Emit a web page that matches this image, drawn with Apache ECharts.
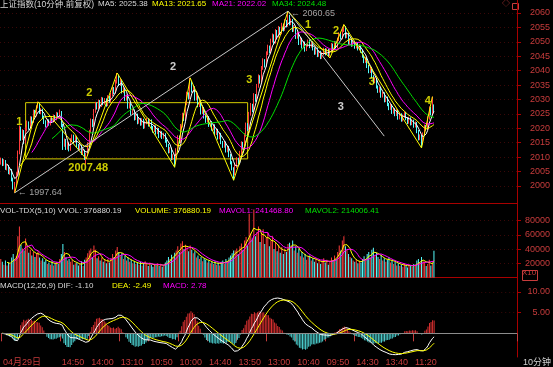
<!DOCTYPE html>
<html><head><meta charset="utf-8">
<script src="https://cdn.jsdelivr.net/npm/echarts@6/dist/echarts.min.js"></script>
<style>html,body{margin:0;padding:0;background:#000;}#c{width:553px;height:367px;}</style>
</head><body><div id="c"></div><script>
// candles: [open, close, low, high]
const ohlc = [
[2008.0,2009.0,2007.4,2009.8],[2009.0,2007.5,2006.9,2009.6],[2007.5,2008.6,2007.0,2009.3],[2008.6,2006.2,2005.6,2009.0],[2006.2,2006.9,2005.4,2007.8],
[2006.9,2004.8,2004.1,2007.3],[2004.8,2005.5,2003.9,2006.4],[2005.5,2002.3,2001.6,2005.9],[2002.3,1999.5,1998.8,2002.9],[1999.5,2000.6,1997.64,2001.4],
[2000.6,2004.0,2000.1,2004.8],[2004.0,2011.5,2003.6,2012.3],[2011.5,2019.8,2011.0,2021.0],[2019.8,2016.4,2015.7,2020.6],[2016.4,2018.9,2015.9,2019.7],
[2018.9,2015.2,2014.6,2019.4],[2015.2,2019.6,2014.8,2020.3],[2019.6,2021.8,2019.0,2022.7],[2021.8,2020.1,2019.5,2022.4],[2020.1,2023.5,2019.7,2024.2],
[2023.5,2022.2,2021.6,2024.1],[2022.2,2025.8,2021.8,2026.5],[2025.8,2024.6,2024.0,2026.4],[2024.6,2027.4,2024.1,2028.0],[2027.4,2028.2,2026.9,2029.2],
[2028.2,2025.5,2025.0,2028.7],[2025.5,2026.3,2024.9,2027.0],[2026.3,2023.8,2023.2,2026.8],[2023.8,2022.1,2021.5,2024.4],[2022.1,2020.9,2020.3,2022.8],
[2020.9,2022.6,2020.4,2023.3],[2022.6,2021.4,2020.9,2023.1],[2021.4,2023.0,2021.0,2023.7],[2023.0,2022.5,2021.9,2023.6],[2022.5,2024.1,2022.0,2024.8],
[2024.1,2023.2,2022.7,2024.6],[2023.2,2025.0,2022.8,2025.7],[2025.0,2024.3,2023.8,2025.5],[2024.3,2025.6,2023.9,2026.5],[2025.6,2021.0,2020.4,2026.0],
[2021.0,2014.2,2012.5,2021.5],[2014.2,2015.8,2013.6,2016.5],[2015.8,2013.1,2012.5,2016.3],[2013.1,2014.6,2012.6,2015.3],[2014.6,2012.7,2012.0,2015.0],
[2012.7,2015.9,2012.2,2016.6],[2015.9,2017.2,2015.3,2017.9],[2017.2,2015.4,2014.8,2017.8],[2015.4,2016.8,2015.0,2017.5],[2016.8,2014.0,2013.4,2017.2],
[2014.0,2012.9,2012.3,2014.6],[2012.9,2013.8,2012.4,2014.5],[2013.8,2011.4,2010.8,2014.2],[2011.4,2012.2,2010.9,2012.9],[2012.2,2009.6,2009.0,2012.6],
[2009.6,2010.9,2007.48,2011.5],[2010.9,2014.5,2010.4,2015.2],[2014.5,2018.8,2014.0,2019.5],[2018.8,2022.6,2018.3,2023.4],[2022.6,2021.0,2020.4,2023.2],
[2021.0,2025.9,2020.6,2026.7],[2025.9,2028.4,2025.4,2029.2],[2028.4,2027.1,2026.5,2029.0],[2027.1,2029.3,2026.7,2030.0],[2029.3,2027.8,2027.2,2029.8],
[2027.8,2030.2,2027.4,2030.9],[2030.2,2028.6,2028.0,2030.7],[2028.6,2029.9,2028.2,2030.5],[2029.9,2028.1,2027.5,2030.4],[2028.1,2030.8,2027.7,2031.5],
[2030.8,2029.5,2028.9,2031.3],[2029.5,2031.6,2029.1,2032.3],[2031.6,2033.8,2031.2,2034.5],[2033.8,2032.4,2031.8,2034.3],[2032.4,2036.0,2032.0,2036.8],
[2036.0,2038.1,2035.5,2039.2],[2038.1,2035.2,2034.6,2038.6],[2035.2,2036.4,2034.7,2037.1],[2036.4,2032.7,2032.1,2036.9],[2032.7,2033.5,2032.2,2034.2],
[2033.5,2030.1,2029.5,2034.0],[2030.1,2031.0,2029.6,2031.7],[2031.0,2027.4,2026.8,2031.5],[2027.4,2028.2,2026.9,2028.9],[2028.2,2025.1,2024.5,2028.7],
[2025.1,2026.0,2024.6,2026.7],[2026.0,2023.3,2022.7,2026.5],[2023.3,2024.6,2022.9,2025.3],[2024.6,2022.0,2021.4,2025.1],[2022.0,2023.1,2021.6,2023.8],
[2023.1,2021.5,2020.9,2023.6],[2021.5,2022.8,2021.0,2023.5],[2022.8,2020.4,2019.8,2023.3],[2020.4,2021.9,2020.0,2022.6],[2021.9,2023.0,2021.4,2023.7],
[2023.0,2021.2,2020.6,2023.5],[2021.2,2022.6,2020.8,2023.3],[2022.6,2020.3,2019.7,2023.1],[2020.3,2019.1,2018.5,2020.8],[2019.1,2020.5,2018.7,2021.2],
[2020.5,2018.4,2017.8,2021.0],[2018.4,2019.6,2018.0,2020.3],[2019.6,2017.2,2016.6,2020.1],[2017.2,2018.5,2016.8,2019.2],[2018.5,2016.9,2016.3,2019.0],
[2016.9,2017.8,2016.4,2018.5],[2017.8,2015.6,2015.0,2018.3],[2015.6,2014.1,2013.5,2016.1],[2014.1,2011.9,2011.3,2014.6],[2011.9,2012.8,2011.4,2013.5],
[2012.8,2009.5,2008.9,2013.3],[2009.5,2010.3,2009.0,2011.0],[2010.3,2008.0,2006.5,2010.8],[2008.0,2012.4,2007.6,2013.1],[2012.4,2016.9,2012.0,2017.6],
[2016.9,2015.3,2014.7,2017.5],[2015.3,2020.8,2014.9,2021.5],[2020.8,2024.6,2020.3,2025.4],[2024.6,2023.1,2022.5,2025.2],[2023.1,2028.5,2022.7,2029.3],
[2028.5,2031.9,2028.0,2032.7],[2031.9,2030.6,2030.0,2032.5],[2030.6,2035.8,2030.2,2037.5],[2035.8,2033.0,2032.4,2036.4],[2033.0,2034.1,2032.5,2034.8],
[2034.1,2030.2,2029.6,2034.6],[2030.2,2031.3,2029.7,2032.0],[2031.3,2027.9,2027.3,2031.8],[2027.9,2028.6,2027.4,2029.3],[2028.6,2025.4,2024.8,2029.1],
[2025.4,2026.8,2025.0,2027.5],[2026.8,2024.0,2023.4,2027.3],[2024.0,2022.5,2021.9,2024.6],[2022.5,2023.7,2022.0,2024.4],[2023.7,2021.1,2020.5,2024.2],
[2021.1,2022.0,2020.6,2022.7],[2022.0,2019.8,2019.2,2022.5],[2019.8,2020.9,2019.3,2021.6],[2020.9,2018.2,2017.6,2021.4],[2018.2,2019.3,2017.7,2020.0],
[2019.3,2016.7,2016.1,2019.8],[2016.7,2017.9,2016.2,2018.6],[2017.9,2015.1,2014.5,2018.4],[2015.1,2013.8,2013.2,2015.6],[2013.8,2014.9,2013.3,2015.6],
[2014.9,2012.2,2011.6,2015.4],[2012.2,2013.4,2011.7,2014.1],[2013.4,2010.6,2010.0,2013.9],[2010.6,2008.1,2007.5,2011.1],[2008.1,2006.0,2005.4,2008.6],
[2006.0,2004.2,2002.0,2006.5],[2004.2,2006.8,2003.7,2007.5],[2006.8,2009.3,2006.3,2010.0],[2009.3,2008.1,2007.5,2009.8],[2008.1,2011.5,2007.7,2012.2],
[2011.5,2014.8,2011.0,2015.5],[2014.8,2013.2,2012.6,2015.3],[2013.2,2017.6,2012.8,2018.3],[2017.6,2021.3,2017.1,2022.0],[2021.3,2019.7,2019.1,2021.8],
[2019.7,2024.9,2019.3,2025.7],[2024.9,2028.0,2024.4,2028.8],[2028.0,2026.2,2025.6,2028.5],[2026.2,2031.4,2025.8,2032.2],[2031.4,2029.8,2029.2,2031.9],
[2029.8,2034.6,2029.4,2035.4],[2034.6,2037.9,2034.1,2038.7],[2037.9,2036.1,2035.5,2038.4],[2036.1,2040.8,2035.7,2041.6],[2040.8,2043.5,2040.3,2044.3],
[2043.5,2041.7,2041.1,2044.0],[2041.7,2045.9,2041.3,2046.7],[2045.9,2048.2,2045.4,2049.0],[2048.2,2046.6,2046.0,2048.7],[2046.6,2050.3,2046.2,2051.1],
[2050.3,2052.1,2049.8,2052.9],[2052.1,2049.8,2049.2,2052.6],[2049.8,2053.6,2049.4,2054.4],[2053.6,2051.9,2051.3,2054.1],[2051.9,2054.7,2051.5,2055.5],
[2054.7,2053.0,2052.4,2055.2],[2053.0,2055.8,2052.6,2056.6],[2055.8,2054.2,2053.6,2056.3],[2054.2,2057.1,2053.8,2057.9],[2057.1,2055.6,2055.0,2057.6],
[2055.6,2058.9,2055.2,2060.65],[2058.9,2056.3,2055.7,2059.4],[2056.3,2057.4,2055.8,2058.1],[2057.4,2054.0,2053.4,2057.9],[2054.0,2055.1,2053.5,2055.8],
[2055.1,2051.6,2051.0,2055.6],[2051.6,2052.8,2051.1,2053.5],[2052.8,2049.5,2048.9,2053.3],[2049.5,2050.9,2049.0,2051.6],[2050.9,2048.3,2047.7,2051.4],
[2048.3,2049.6,2047.8,2050.3],[2049.6,2047.2,2046.6,2050.1],[2047.2,2048.8,2046.8,2049.5],[2048.8,2050.1,2048.3,2050.8],[2050.1,2048.4,2047.8,2050.6],
[2048.4,2049.7,2048.0,2050.4],[2049.7,2047.6,2047.0,2050.2],[2047.6,2046.1,2045.5,2048.1],[2046.1,2047.5,2045.6,2048.2],[2047.5,2045.3,2044.7,2048.0],
[2045.3,2046.4,2044.8,2047.1],[2046.4,2044.6,2044.0,2046.9],[2044.6,2045.8,2044.1,2046.5],[2045.8,2047.3,2045.3,2048.0],[2047.3,2045.9,2045.3,2047.8],
[2045.9,2047.0,2045.4,2047.7],[2047.0,2045.4,2044.8,2047.5],[2045.4,2046.8,2044.9,2047.5],[2046.8,2048.9,2046.3,2049.6],[2048.9,2047.5,2046.9,2049.4],
[2047.5,2049.6,2047.0,2050.3],[2049.6,2048.3,2047.7,2050.1],[2048.3,2050.8,2047.8,2051.5],[2050.8,2052.6,2050.3,2053.3],[2052.6,2051.4,2050.8,2053.1],
[2051.4,2053.9,2050.9,2054.6],[2053.9,2055.0,2053.4,2056.0],[2055.0,2051.8,2051.2,2055.5],[2051.8,2052.7,2051.3,2053.4],[2052.7,2049.5,2048.9,2053.2],
[2049.5,2050.6,2049.0,2051.3],[2050.6,2048.9,2048.3,2051.1],[2048.9,2049.8,2048.4,2050.5],[2049.8,2048.2,2047.6,2050.3],[2048.2,2049.3,2047.7,2050.0],
[2049.3,2047.6,2047.0,2049.8],[2047.6,2048.5,2047.1,2049.2],[2048.5,2046.8,2046.2,2049.0],[2046.8,2045.1,2044.5,2047.3],[2045.1,2043.2,2042.6,2045.6],
[2043.2,2044.0,2042.7,2044.7],[2044.0,2041.5,2040.9,2044.5],[2041.5,2039.7,2039.1,2042.0],[2039.7,2040.6,2039.2,2041.3],[2040.6,2037.9,2037.3,2041.1],
[2037.9,2036.2,2035.6,2038.4],[2036.2,2037.0,2035.7,2037.7],[2037.0,2034.4,2033.8,2037.5],[2034.4,2032.9,2032.3,2034.9],[2032.9,2033.7,2032.4,2034.4],
[2033.7,2031.2,2030.6,2034.2],[2031.2,2032.0,2030.7,2032.7],[2032.0,2029.6,2029.0,2032.5],[2029.6,2030.5,2029.1,2031.2],[2030.5,2028.3,2027.7,2031.0],
[2028.3,2026.9,2026.3,2028.8],[2026.9,2027.8,2026.4,2028.5],[2027.8,2025.6,2025.0,2028.3],[2025.6,2026.5,2025.1,2027.2],[2026.5,2024.8,2024.2,2027.0],
[2024.8,2025.9,2024.3,2026.6],[2025.9,2023.6,2023.0,2026.4],[2023.6,2024.7,2023.1,2025.4],[2024.7,2022.9,2022.3,2025.2],[2022.9,2024.1,2022.4,2024.8],
[2024.1,2025.2,2023.6,2025.9],[2025.2,2023.4,2022.8,2025.7],[2023.4,2022.1,2021.5,2023.9],[2022.1,2023.3,2021.6,2024.0],[2023.3,2021.6,2021.0,2023.8],
[2021.6,2022.5,2021.1,2023.2],[2022.5,2020.8,2020.2,2023.0],[2020.8,2021.7,2020.3,2022.4],[2021.7,2018.9,2018.3,2022.2],[2018.9,2016.4,2015.8,2019.4],
[2016.4,2017.2,2015.9,2017.9],[2017.2,2014.8,2013.2,2017.7],[2014.8,2017.9,2014.3,2018.6],[2017.9,2020.6,2017.4,2021.3],[2020.6,2019.8,2019.2,2021.1],
[2019.8,2023.5,2019.4,2024.2],[2023.5,2026.9,2023.0,2027.6],[2026.9,2025.1,2024.5,2027.4],[2025.1,2027.8,2024.7,2031.0],[2027.8,2026.2,2025.6,2028.3]
];
const volume = [
26000,22000,18000,24000,17000,21000,19000,28000,33000,25000,
30000,58000,72000,46000,41000,38000,55000,43000,35000,39000,31000,36000,29000,34000,37000,
28000,24000,27000,22000,25000,19000,21000,18000,23000,17000,20000,22000,19000,26000,33000,47000,
36000,29000,24000,26000,22000,25000,18000,20000,21000,17000,19000,23000,16000,25000,28000,
34000,38000,41000,29000,45000,39000,27000,30000,24000,28000,22000,25000,20000,26000,21000,27000,33000,29000,38000,43000,
36000,30000,34000,26000,31000,24000,28000,22000,25000,20000,23000,19000,21000,18000,22000,17000,20000,23000,19000,16000,21000,18000,15000,19000,17000,20000,16000,18000,15000,17000,21000,24000,29000,26000,32000,28000,35000,
38000,44000,36000,48000,51000,40000,46000,42000,37000,45000,
39000,34000,37000,28000,31000,26000,29000,23000,27000,25000,21000,24000,20000,22000,19000,23000,18000,21000,17000,22000,24000,19000,26000,21000,28000,31000,34000,38000,
38000,41000,33000,44000,48000,39000,52000,57000,45000,90000,62000,55000,96000,58000,64000,72000,50000,61000,68000,47000,56000,63000,44000,52000,58000,40000,49000,37000,46000,35000,43000,33000,41000,36000,47000,
49000,45000,52000,38000,44000,35000,41000,30000,36000,28000,33000,25000,29000,31000,24000,27000,22000,26000,20000,24000,19000,23000,27000,21000,25000,18000,22000,28000,24000,31000,26000,36000,45000,38000,52000,58000,
44000,39000,33000,29000,27000,24000,22000,25000,20000,23000,21000,26000,30000,24000,33000,36000,28000,39000,42000,31000,35000,29000,26000,32000,24000,27000,22000,25000,28000,21000,24000,
19000,22000,17000,20000,16000,18000,15000,19000,17000,14000,18000,16000,15000,19000,17000,
24000,26000,21000,29000,23000,22000,16000,19000,25000,17000,20000,37688
];
const tickIndex = [0,38,57,76,95,114,133,152,171,190,209,228,247,266];
const tickLabels = ['04月29日','14:50','14:00','13:10','10:50','10:00','14:40','13:50','13:00','10:40','09:50','14:30','13:40','11:20'];
const priceTicks = [2000,2005,2010,2015,2020,2025,2030,2035,2040,2045,2050,2055,2060];
const volTicks = [20000,40000,60000,80000];
const macdTicks = [5,10];
// wave pivots [barIndex, price]
const zigzag = [[9,1997.64],[24,2029.2],[55,2009.4],[75,2039.2],[112,2006.5],[122,2037.5],[150,2002.0],[185,2060.65],[212,2044.4],[221,2056.0],[271,2013.2],[278,2031.0]];
const trendA = [[9,1997.64],[185,2060.65]];
const trendB = [[185,2060.65],[247,2017.3]];
const boxCorners = [[16,2028.9],[159,2009.4]];
// wave labels [barIndex, price, text, isYellow]
const waveLabels = [[11.5,2022.2,'1',1],[56.5,2032.3,'2',1],[159.8,2036.8,'3',1],[198.3,2055.8,'1',1],[216.2,2053.8,'2',1],[238.7,2036.1,'3',1],[275.2,2029.5,'4',1],[111,2041.3,'2',0],[219.4,2027.4,'3',0]];
const N = 333;

const closes = ohlc.map(r => r[1]);
function ma(arr, n){ return arr.map((v,i)=>{ if(i<n-1) return '-'; let s=0; for(let k=i-n+1;k<=i;k++) s+=arr[k]; return +(s/n).toFixed(3); }); }
function ema(arr, n){ const k=2/(n+1); let out=[]; let p=arr[0]; arr.forEach((v,i)=>{ p = i===0 ? v : v*k + p*(1-k); out.push(p); }); return out; }
const e12 = ema(closes,12), e26 = ema(closes,26);
const dif = e12.map((v,i)=>v-e26[i]);
const dea = ema(dif,9);
const macd = dif.map((v,i)=>2*(v-dea[i]));

const UP='#ff3c3c', DN='#54fcfc', AX='#a80000', LBL='#c83c3c';
const cats = Array.from({length:N},(_,i)=>String(i));
const showTick = (i)=> tickIndex.indexOf(i) >= 0;
const FONT = "'Liberation Sans','Noto Sans CJK SC',sans-serif";

function xAx(g, withLabels){
  return {type:'category', gridIndex:g, data:cats, boundaryGap:true,
    axisLine:{show:true, lineStyle:{color:AX, width:1}},
    axisTick:{show:withLabels, interval:(i)=>showTick(i), length:8, lineStyle:{color:LBL}},
    axisLabel:{show:withLabels, interval:(i)=>showTick(i), formatter:(v,i)=>{const k=tickIndex.indexOf(+v); return k>=0?tickLabels[k]:'';},
      color:LBL, fontSize:9, fontFamily:FONT, align:'left', margin:1, padding:[0,0,0,1]},
    splitLine:{show:false}};
}
function yAx(g, min, max, ticks, fmt){
  return {type:'value', gridIndex:g, position:'right', min:min, max:max, scale:true,
    axisLine:{show:true, lineStyle:{color:AX, width:1}},
    axisTick:{show:true, length:4, customValues:ticks, lineStyle:{color:AX}},
    axisLabel:{customValues:ticks, color:LBL, fontSize:9, fontFamily:FONT, align:'right', margin:33, formatter:fmt || ((v)=>String(v))},
    splitLine:{show:true, lineStyle:{color:'#3a0808', type:[1,3], width:1}}};
}

const series = [];
series.push({type:'candlestick', xAxisIndex:0, yAxisIndex:0, data:ohlc.map(r=>[r[0],r[1],r[2],r[3]]), barWidth:1,
  itemStyle:{color:UP, color0:DN, borderColor:UP, borderColor0:DN, borderWidth:1},
  markArea:{silent:true, itemStyle:{color:'rgba(0,0,0,0)', borderColor:'#d4cc00', borderWidth:1},
    data:[[{coord:boxCorners[0]},{coord:boxCorners[1]}]]}});
[[5,'#ffffff'],[13,'#ffff00'],[21,'#ff00ff'],[34,'#00e000']].forEach(([n,c])=>{
  series.push({type:'line', xAxisIndex:0, yAxisIndex:0, data:ma(closes,n), symbol:'none', lineStyle:{color:c,width:1}, z:3});
});
series.push({type:'line', xAxisIndex:0, yAxisIndex:0, data:zigzag, symbol:'none', lineStyle:{color:'#ffff00', width:1}, z:4});
[trendA, trendB].forEach(t=>series.push({type:'line', xAxisIndex:0, yAxisIndex:0, data:t, symbol:'none', lineStyle:{color:'#c8c8c8', width:1}, z:4}));
series.push({type:'scatter', xAxisIndex:0, yAxisIndex:0, symbolSize:0, z:6,
  data: waveLabels.map(w=>({value:[w[0],w[1]], label:{show:true, formatter:w[2], color:w[3]?'#ffff00':'#ffffff', fontSize:11, fontWeight:'bold', fontFamily:FONT, position:'inside'}}))
    .concat([
      {value:[9,1997.64], label:{show:true, formatter:'← 1997.64', color:'#c8c8c8', fontSize:9, fontFamily:FONT, position:'right', offset:[-2,0]}},
      {value:[185,2060.65], label:{show:true, formatter:'← 2060.65', color:'#c8c8c8', fontSize:9, fontFamily:FONT, position:'right', offset:[-2,2]}},
      {value:[55,2007.48], label:{show:true, formatter:'2007.48', color:'#ffff00', fontSize:11, fontWeight:'bold', fontFamily:FONT, position:'inside', offset:[2,4]}}
    ])});
series.push({type:'bar', xAxisIndex:1, yAxisIndex:1, barWidth:1,
  data: volume.map((v,i)=>({value:v, itemStyle:{color: ohlc[i][1]>=ohlc[i][0]?UP:DN}}))});
series.push({type:'line', xAxisIndex:1, yAxisIndex:1, data:ma(volume,5), symbol:'none', lineStyle:{color:'#ffff00',width:1}});
series.push({type:'line', xAxisIndex:1, yAxisIndex:1, data:ma(volume,10), symbol:'none', lineStyle:{color:'#ff00ff',width:1}});
series.push({type:'bar', xAxisIndex:2, yAxisIndex:2, barWidth:1,
  data: macd.map(v=>({value:+v.toFixed(3), itemStyle:{color: v>=0?'#d83030':'#4cd0d0'}}))});
series.push({type:'line', xAxisIndex:2, yAxisIndex:2, data:dif.map(v=>+v.toFixed(3)), symbol:'none', lineStyle:{color:'#ffffff',width:1}, z:3,
  markLine:{silent:true, symbol:'none', label:{show:false}, lineStyle:{color:'#8c8c8c', type:'solid', width:1}, data:[{yAxis:0}]}});
series.push({type:'line', xAxisIndex:2, yAxisIndex:2, data:dea.map(v=>+v.toFixed(3)), symbol:'none', lineStyle:{color:'#ffff00',width:1}, z:3});

function txt(x,y,t,c,fs){ return {type:'text', left:x, top:y, silent:true, style:{text:t, fill:c, font:(fs||8)+'px '+FONT}}; }
const graphic = [
  txt(0,0,'上证指数(10分钟.前复权)','#d8d8d8',8.5), txt(98,0,'MA5: 2025.38','#d8d8d8'), txt(152,0,'MA13: 2021.65','#ffff00'),
  txt(212,0,'MA21: 2022.02','#ff00ff'), txt(272,0,'MA34: 2024.48','#00e000'),
  txt(0,207,'VOL-TDX(5,10) VVOL: 376880.19','#d8d8d8'), txt(135,207,'VOLUME: 376880.19','#ffff00'),
  txt(219,207,'MAVOL1: 241468.80','#ff00ff'), txt(305,207,'MAVOL2: 214006.41','#00e000'),
  txt(0,282,'MACD(12,26,9) DIF: -1.10','#d8d8d8'), txt(112,282,'DEA: -2.49','#ffff00'), txt(163,282,'MACD: 2.78','#ff00ff'),
  txt(523,358,'10分钟','#d0d0d0',9),
  txt(502,0,'◇','#c83c3c',8),
  {type:'rect', left:510, top:1, shape:{width:6,height:6}, style:{fill:'none', stroke:'#c83c3c'}},
  {type:'rect', left:520, top:268, shape:{width:15,height:10}, style:{fill:'none', stroke:'#c83c3c'}},
  txt(522,269,'X10','#c83c3c',8)
];
if (ohlc.length !== 280 || volume.length !== 280) graphic.push(txt(200,150,'LEN '+ohlc.length+' '+volume.length,'#fff',14));

const chart = echarts.init(document.getElementById('c'), null, {renderer:'canvas'});
chart.setOption({
  backgroundColor:'#000', animation:false,
  grid:[{left:0,right:34,top:0,height:203},{left:0,right:34,top:203,height:77},{left:0,right:34,top:280,height:78}],
  xAxis:[xAx(0,false), xAx(1,false), xAx(2,true)],
  yAxis:[yAx(0,1994.1,2064.51,priceTicks), yAx(1,-3600,105000,volTicks), yAx(2,-5.71,12.86,macdTicks,(v)=>v.toFixed(2))],
  series:series, graphic:graphic
});
</script></body></html>
